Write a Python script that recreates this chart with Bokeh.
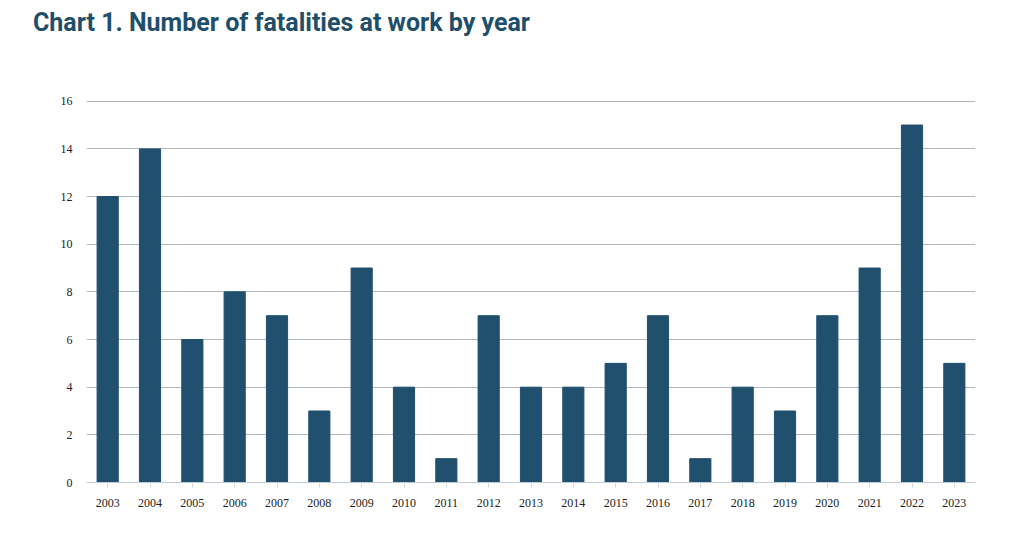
from bokeh.plotting import figure
from bokeh.models import FixedTicker, Range1d, Div
from bokeh.layouts import column
from bokeh.embed import file_html
from bokeh.resources import INLINE

years = ["2003", "2004", "2005", "2006", "2007", "2008", "2009", "2010", "2011", "2012",
         "2013", "2014", "2015", "2016", "2017", "2018", "2019", "2020", "2021", "2022", "2023"]
fatalities = [12, 14, 6, 8, 7, 3, 9, 4, 1, 7, 4, 4, 5, 7, 1, 4, 3, 7, 9, 15, 5]
y_ticks = [0, 2, 4, 6, 8, 10, 12, 14, 16]
chart_title = "Chart 1. Number of fatalities at work by year"

# heading strip above the chart
head = Div(
    text=('<div style="padding:8px 0 0 33px; font-family:Roboto; font-weight:bold; '
          'font-size:25px; line-height:30px; color:#1F4E6B; white-space:nowrap;">'
          + chart_title + '</div>'),
    width=1019, height=60, margin=(0, 0, 0, 0))

# bar chart
chart = figure(x_range=years, y_range=Range1d(0, 16.03), width=1019, height=483,
               output_backend="svg", toolbar_location=None,
               min_border_left=86, min_border_right=44, min_border_top=40, min_border_bottom=61)

chart.vbar(x=years, top=fatalities, width=0.5, color="#20506E")

chart.outline_line_color = None
chart.background_fill_color = "white"
chart.border_fill_color = "white"

chart.xgrid.grid_line_color = None
chart.ygrid.grid_line_color = "#AEB9C2"
chart.ygrid.grid_line_width = 1

chart.yaxis.ticker = FixedTicker(ticks=y_ticks)
chart.yaxis.axis_line_color = None
chart.yaxis.major_tick_line_color = None
chart.yaxis.minor_tick_line_color = None
chart.yaxis.major_label_standoff = 8

chart.xaxis.axis_line_color = "#BFCAD5"
chart.xaxis.major_tick_line_color = "#D5DCE3"
chart.xaxis.major_tick_out = 5
chart.xaxis.major_tick_in = 0
chart.xaxis.major_label_standoff = 11

for ax in (chart.xaxis, chart.yaxis):
    ax.major_label_text_font = "Liberation Serif"
    ax.major_label_text_font_size = "12px"
    ax.major_label_text_color = "#222222"

p = column(head, chart, spacing=0)

open("out.html", "w").write(file_html(p, INLINE))
